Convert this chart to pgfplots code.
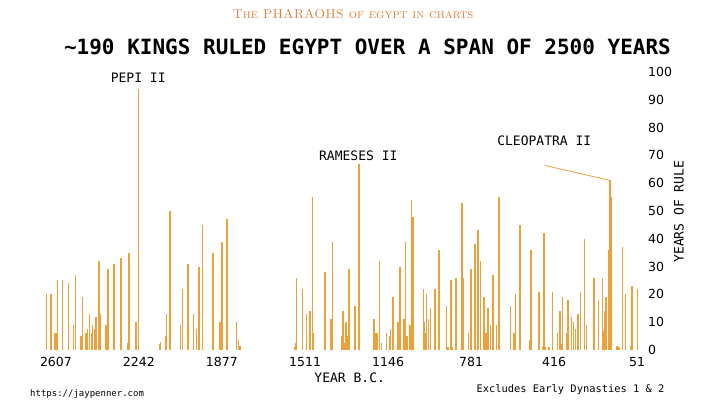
\documentclass[border=0pt]{standalone}
\usepackage{fontspec}
\usepackage{pgfplots}
\usepackage{pgfplotstable}
\pgfplotsset{compat=1.18}
\newfontfamily\monofont{DejaVu Sans Mono}
\newfontfamily\tickfont{DejaVu Sans}
\definecolor{barc}{RGB}{236,160,58}
\definecolor{subc}{RGB}{222,127,62}
\pgfplotstableread{
year val
2648 20
2629 20
2613 6
2606 6
2600 25
2578 25
2551 24
2529 9
2520 27
2496 5
2489 19
2474 6
2467 7.5
2459 13
2450 6
2445 9
2438 7.5
2431 12
2418 32
2413 13
2387 9
2378 29
2352 31
2321 33
2292 2.5
2286 35
2255 10
2245 94
2152 2
2147 3
2124 5
2120 13
2105 50
2058 9
2050 22
2026 31
2001 13
1988 7.5
1978 30
1962 45
1916 35
1886 10
1877 39
1855 47
1812 10
1803 3.6
1798 1.5
1557 1
1551 2.5
1548 26
1522 22
1504 13
1490 14
1478 55
1475 6
1424 28
1397 11
1390 39
1349 5
1344 14
1339 2.5
1331 10
1324 5
1318 29
1292 16
1274 67
1208 11
1199 6
1192 6
1183 32
1176 2.5
1152 6
1141 5
1135 7.5
1124 19
1102 10
1094 30
1076 11
1070 39
1062 5
1050 9
1042 54
1036 48
991 22
988 10
984 6
976 20
967 11
959 15
940 22
922 36
888 16
882 1
869 25
864 1
847 26
821 53
813 26
791 6
781 29
764 38
751 43
740 32
724 19
715 6
706 15
695 9
685 27
668 9
659 55
607 16
593 6
585 20
566 45
522 3.6
517 36
483 21
466 1
461 42
456 1
439 1
422 21
400 6
393 7
390 14
381 2
378 19
360 6
355 18
338 12
331 10
321 7.5
311 13
299 21
281 40
272 9
240 26
220 18
202 26
199 7
193 14
187 19
177 36
170 61
165 55
140 1.5
130 1
114 37
101 20
79 1.5
73 23
50 22
}\reigns
\begin{document}
\begin{tikzpicture}
\useasboundingbox (0,0) rectangle (720bp,405bp);
\begin{axis}[
  at={(40bp,55bp)}, anchor=south west,
  scale only axis, width=605bp, height=278bp,
  x dir=reverse,
  xmin=16, xmax=2677, ymin=0, ymax=100,
  enlargelimits=false,
  axis x line*=bottom, axis y line*=right,
  axis line style={draw=none},
  tick style={draw=none},
  clip=false,
  xtick={2607,2242,1877,1511,1146,781,416,51},
  xticklabels={2607,2242,1877,1511,1146,781,416,51},
  ytick={0,10,...,100},
  /pgf/number format/assume math mode=true,
  ticklabel style={font=\tickfont\fontsize{12.5bp}{14bp}\selectfont, text=black},
  yticklabel style={anchor=west, inner sep=0pt, xshift=3bp},
  xticklabel style={anchor=north, inner sep=0pt, yshift=-7.5bp},
]
\addplot[ycomb, draw=barc, line width=1.4bp] table[x=year,y=val] {\reigns};
\draw[barc, line width=0.8bp] (axis cs:457,66.4) -- (axis cs:170,61);
\node[font=\monofont\fontsize{13bp}{15bp}\selectfont] at (axis cs:2245,98.1) {PEPI II};
\node[font=\monofont\fontsize{13bp}{15bp}\selectfont] at (axis cs:1277,69.9) {RAMESES II};
\node[font=\monofont\fontsize{13bp}{15bp}\selectfont] at (axis cs:459,75.2) {CLEOPATRA II};
\end{axis}
\node[text=subc, font=\fontsize{13bp}{15bp}\selectfont] at (353bp,391bp) {\textsc{The PHARAOHS of egypt in charts}};
\node[font=\monofont\bfseries\fontsize{21bp}{24bp}\selectfont] at (367.5bp,358bp) {\textasciitilde190 KINGS RULED EGYPT OVER A SPAN OF 2500 YEARS};
\node[font=\monofont\fontsize{13bp}{15bp}\selectfont] at (349.7bp,27.7bp) {YEAR B.C.};
\node[font=\monofont\fontsize{13bp}{15bp}\selectfont, rotate=90] at (679bp,193.3bp) {YEARS OF RULE};
\node[font=\monofont\fontsize{9bp}{11bp}\selectfont, anchor=west, inner sep=0pt] at (30bp,11bp) {https://jaypenner.com};
\node[font=\monofont\fontsize{10.4bp}{12bp}\selectfont] at (570.5bp,15bp) {Excludes Early Dynasties 1 \& 2};
\end{tikzpicture}
\end{document}
